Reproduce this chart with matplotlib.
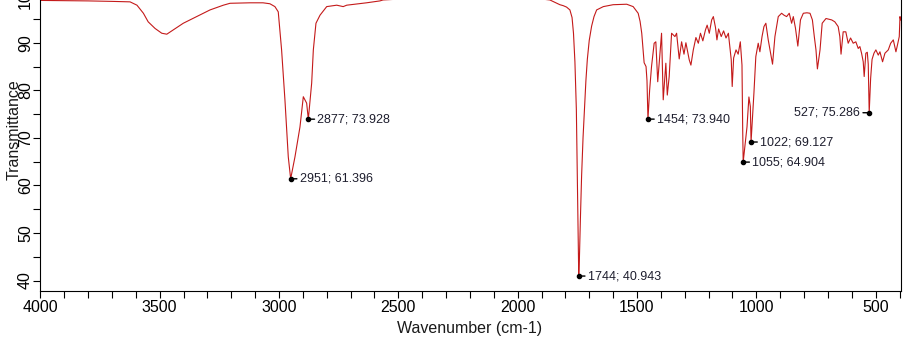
import matplotlib
matplotlib.use('Agg')
import matplotlib.pyplot as plt
from matplotlib.ticker import MultipleLocator

plt.rcParams['font.family'] = ['Liberation Sans', 'DejaVu Sans']

# Spectrum (wavenumber cm-1, transmittance %)
wavenumber = [4000, 3900, 3800, 3700, 3624, 3595, 3568, 3548, 3519, 3491, 3470, 3443,
              3401, 3345, 3289, 3233, 3205, 3121, 3067, 3038, 3017, 3003, 2989, 2975,
              2961, 2951, 2933, 2912, 2898, 2884, 2877, 2863, 2856, 2845, 2828, 2800,
              2758, 2731, 2716, 2633, 2577, 2564, 2450, 2300, 2150, 2000, 1900, 1865,
              1823, 1809, 1795, 1781, 1772, 1766, 1760, 1754, 1750, 1747, 1744, 1741,
              1737, 1732, 1726, 1720, 1714, 1708, 1700, 1690, 1680, 1669, 1641, 1600,
              1543, 1516, 1495, 1487, 1480, 1470, 1462, 1458, 1454, 1447, 1439, 1428,
              1421, 1413, 1407, 1397, 1390, 1379, 1373, 1365, 1355, 1341, 1334, 1323,
              1313, 1303, 1295, 1281, 1274, 1264, 1253, 1243, 1234, 1224, 1213, 1206,
              1197, 1187, 1180, 1171, 1165, 1158, 1147, 1137, 1127, 1117, 1111, 1105,
              1101, 1095, 1085, 1076, 1067, 1060, 1057, 1055, 1039, 1031, 1025, 1022,
              1010, 1002, 992, 985, 976, 968, 960, 950, 940, 932, 922, 908,
              894, 884, 873, 862, 852, 845, 836, 826, 815, 803, 788, 775,
              765, 757, 750, 744, 733, 724, 708, 684, 671, 657, 650, 645,
              636, 625, 615, 605, 594, 583, 573, 566, 559, 552, 548, 541,
              535, 531, 527, 521, 515, 507, 499, 489, 482, 471, 461, 447,
              437, 426, 415, 410, 401, 398, 395]
transmittance = [98.9, 98.85, 98.8, 98.7, 98.6, 97.9, 96.2, 94.4, 93.0, 92.0, 91.8, 92.7,
                 94.1, 95.5, 96.9, 97.9, 98.3, 98.4, 98.4, 98.2, 97.6, 96.5, 88.5, 78.0,
                 66.0, 61.396, 66.0, 72.3, 78.65, 77.3, 73.928, 81.5, 88.5, 94.1, 95.8, 97.6,
                 97.9, 97.6, 97.9, 98.4, 98.8, 99.0, 99.3, 99.2, 99.4, 99.3, 99.2, 99.0,
                 98.0, 97.8, 97.5, 96.9, 95.3, 92.0, 86.0, 76.0, 62.0, 50.0, 40.943, 45.0,
                 53.0, 62.0, 70.0, 76.0, 82.0, 86.5, 90.5, 93.5, 95.5, 96.9, 97.6, 98.0,
                 98.1, 97.6, 96.2, 94.5, 92.0, 85.8, 85.0, 82.0, 73.940, 80.0, 85.0, 89.9,
                 90.2, 81.8, 85.7, 92.0, 78.0, 85.7, 79.0, 82.9, 92.0, 91.3, 92.0, 86.6,
                 90.2, 87.6, 90.0, 86.4, 85.3, 88.5, 91.1, 89.9, 92.0, 90.4, 92.7, 93.7,
                 92.0, 94.8, 95.5, 93.2, 90.6, 92.9, 91.3, 92.5, 91.0, 92.0, 89.1, 86.4,
                 80.8, 86.8, 88.5, 87.6, 90.2, 85.3, 71.6, 64.904, 72.3, 78.6, 76.6, 69.127,
                 79.4, 87.1, 89.9, 88.1, 91.3, 93.4, 94.1, 90.6, 87.8, 85.5, 91.3, 95.5,
                 96.2, 95.8, 95.5, 96.2, 94.1, 95.5, 93.1, 89.3, 94.8, 96.2, 96.3, 96.2,
                 94.8, 91.3, 88.5, 84.5, 88.5, 94.1, 95.1, 94.8, 94.4, 93.4, 91.3, 87.6,
                 92.3, 92.3, 89.9, 91.0, 89.9, 90.2, 88.8, 89.2, 87.8, 86.0, 82.9, 87.8,
                 88.0, 85.5, 75.286, 82.5, 86.5, 87.8, 88.5, 87.4, 88.1, 86.0, 87.8, 88.5,
                 89.9, 90.6, 88.1, 89.2, 91.3, 95.5, 94.8]

# Labelled peaks
peak_wn = [2951, 2877, 1744, 1454, 1055, 1022, 527]
peak_T = [61.396, 73.928, 40.943, 73.940, 64.904, 69.127, 75.286]
peak_side = ['right', 'right', 'right', 'right', 'right', 'right', 'left']

xtick_values = [4000, 3500, 3000, 2500, 2000, 1500, 1000, 500]
ytick_values = [40, 50, 60, 70, 80, 90, 100]

fig = plt.figure(figsize=(9.08, 3.6), dpi=100)
ax = fig.add_axes([40.3 / 908, 69 / 360, 860.4 / 908, 300.56 / 360])

ax.plot(wavenumber, transmittance, color='#c41a1a', lw=0.8, zorder=2)

for wn, t, side in zip(peak_wn, peak_T, peak_side):
    ax.plot([wn], [t], 'o', color='black', ms=3, zorder=4)
    dx = 9 if side == 'right' else -9
    ax.annotate(f"{wn}; {t:.3f}", xy=(wn, t), xytext=(dx, 0),
                textcoords='offset pixels', ha='left' if side == 'right' else 'right',
                va='center', fontsize=9, color='#1e1e2e',
                arrowprops=dict(arrowstyle='-', color='black', lw=1.0,
                                shrinkA=0, shrinkB=0), zorder=5)

ax.set_xlim(4000, 395)
ax.set_ylim(37.8, 101.0)

ax.set_xticks(xtick_values)
ax.set_xticklabels([str(v) for v in xtick_values])
ax.xaxis.set_minor_locator(MultipleLocator(100))
ax.set_yticks(ytick_values)
ax.set_yticklabels([str(v) for v in ytick_values], rotation=90, va='center')
ax.yaxis.set_minor_locator(MultipleLocator(5))

ax.tick_params(which='both', direction='out', length=5.2, width=0.8, color='black',
               top=False, right=False)
ax.tick_params(axis='x', labelsize=11.5, pad=1.5)
ax.tick_params(axis='y', labelsize=11.5, pad=0.0)

ax.spines['top'].set_visible(False)
for s in ['left', 'right', 'bottom']:
    ax.spines[s].set_linewidth(0.8)
    ax.spines[s].set_color('black')

fig.text(470 / 908, 1 - 328 / 360, 'Wavenumber (cm-1)', ha='center', va='center',
         fontsize=11.5, color='#1a1a1a')
fig.text(14 / 908, 1 - 130 / 360, 'Transmittance', ha='center', va='center',
         rotation=90, fontsize=11.5, color='#1a1a1a')

fig.savefig('out.png', dpi=100)
